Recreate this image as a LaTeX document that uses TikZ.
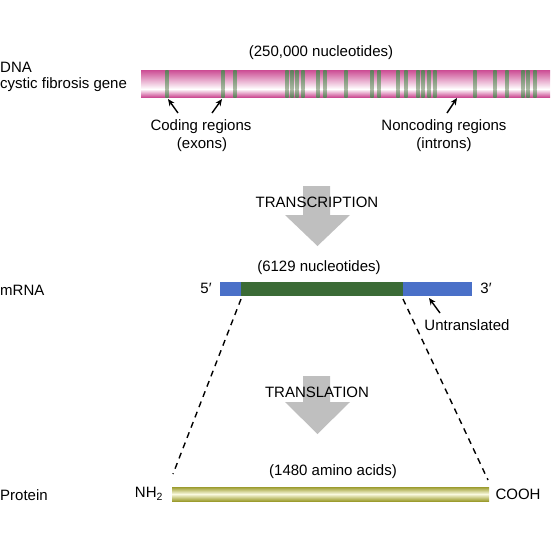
\documentclass[tikz,border=0pt]{standalone}
\usepackage{fontspec}
\setmainfont{Liberation Sans}
\usetikzlibrary{arrows.meta}
\definecolor{dnapink}{HTML}{CC4C94}
\definecolor{exonline}{HTML}{5E7C5A}
\definecolor{exonlight}{HTML}{A9B8A2}
\definecolor{utrblue}{HTML}{4A70C8}
\definecolor{cdsgreen}{HTML}{3B6B36}
\definecolor{protolive}{HTML}{9C9C2E}
\definecolor{protlight}{HTML}{FAFAE0}
\definecolor{flowgray}{HTML}{BFBFBF}
\tikzset{
  txt/.style     = {font=\fontsize{15}{17}\selectfont, inner sep=0pt},
  lefttxt/.style = {txt, anchor=west},
  ptr/.style     = {-{Stealth[length=7pt, width=6pt]}, line width=1.4pt},
  dashlink/.style= {dash pattern=on 6pt off 5pt, line width=1.4pt},
  bigflow/.style = {fill=flowgray},
}

\begin{document}
\begin{tikzpicture}[x=1pt, y=-1pt]
	\useasboundingbox (0,0) rectangle (550,550);
	\shade[top color=dnapink, bottom color=white] (141,70) rectangle (550,89);
	\shade[top color=white, bottom color=dnapink] (141,89) rectangle (550,97);
	\foreach \x in {167,223,235,287,292,297,303,318,325,346,372,379,398,406,418,423,429,435,475,495,507,523,528,535}{
		\shade[top color=exonline, bottom color=exonlight] (\x-1.6,70) rectangle (\x+1.6,89);
		\shade[top color=exonlight, bottom color=exonline] (\x-1.6,89) rectangle (\x+1.6,97);
	}
	\node[lefttxt] (dnalbl)  at (0,67) {DNA};
	\node[lefttxt] (genelbl) at (0,85) {cystic fibrosis gene};
	\node[txt] (dnalen)    at (321,53)  {(250,000 nucleotides)};
	\node[txt] (coding)    at (201,127) {Coding regions};
	\node[txt] (exons)     at (202,145) {(exons)};
	\node[txt] (noncoding) at (444,127) {Noncoding regions};
	\node[txt] (introns)   at (444,145) {(introns)};
	\coordinate (ex1tip) at (168,99);  \coordinate (ex1tail) at (178,113);
	\coordinate (ex2tip) at (222,99);  \coordinate (ex2tail) at (212,113);
	\coordinate (intip)  at (457,98);  \coordinate (intail)  at (447,113);
	\foreach \a/\b in {ex1tail/ex1tip, ex2tail/ex2tip, intail/intip}{\draw[ptr] (\a) -- (\b);}

	\fill[bigflow] (303,186) -- (330,186) -- (330,215) -- (350,215) -- (317.5,246) -- (285,215) -- (303,215) -- cycle;
	\node[txt] (transcr) at (317,202) {TRANSCRIPTION};

	\fill[utrblue] (220,282) rectangle (472,296);
	\fill[cdsgreen] (241,282) rectangle (403,296);
	\node[lefttxt] (mrnalbl) at (0,290) {mRNA};
	\node[txt] (five)    at (206,288) {5′};
	\node[txt] (three)   at (486,288) {3′};
	\node[txt] (mrnalen) at (319,268) {(6129 nucleotides)};
	\node[txt] (utr)     at (467,325) {Untranslated};
	\coordinate (utrtip) at (429,298); \coordinate (utrtail) at (440,313);
	\draw[ptr] (utrtail) -- (utrtip);

	\fill[bigflow] (303,376) -- (330,376) -- (330,402) -- (350,402) -- (317.5,434) -- (285,402) -- (303,402) -- cycle;
	\node[txt] (transl) at (317,392) {TRANSLATION};

	\shade[top color=protolive, bottom color=protlight] (172,487) rectangle (489,494);
	\shade[top color=protlight, bottom color=protolive] (172,494) rectangle (489,501);
	\node[lefttxt] (protlbl) at (0,495) {Protein};
	\node[txt] (nterm)   at (149,494) {NH\textsubscript{2}};
	\node[txt] (cterm)   at (518,494) {COOH};
	\node[txt] (protlen) at (333,472) {(1480 amino acids)};
	\coordinate (cdsL) at (241,299); \coordinate (protL) at (173,474);
	\coordinate (cdsR) at (403,299); \coordinate (protR) at (488,480);
	\foreach \a/\b in {cdsL/protL, cdsR/protR}{\draw[dashlink] (\a) -- (\b);}
\end{tikzpicture}
\end{document}
